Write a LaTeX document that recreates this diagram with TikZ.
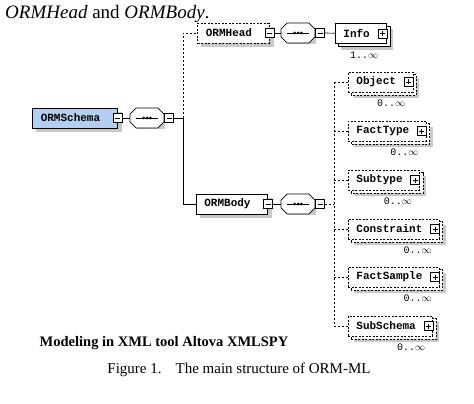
\documentclass[tikz,border=0pt]{standalone}
\usepackage{fontspec}
\setmainfont{Liberation Serif}
\newfontfamily\xmlfont{Liberation Mono}
\usetikzlibrary{backgrounds,shapes.misc}
\definecolor{schemablue}{RGB}{178,206,242}
\definecolor{shadowgrey}{RGB}{200,200,200}

\begin{document}
\begin{tikzpicture}[x=1pt, y=-1pt]
        \tikzstyle{elem}=[draw=black, fill=white, line width=0.8pt, minimum height=20pt, inner xsep=8pt, inner ysep=0pt, font=\xmlfont\bfseries\fontsize{11}{13}\selectfont, execute at end node=\hspace{9pt}]
        \tikzstyle{optional}=[dash pattern=on 2pt off 1.5pt]
        \tikzstyle{shade}=[fill=shadowgrey]
        \tikzstyle{pmbox}=[draw=black, fill=white, line width=0.6pt, minimum size=9pt, inner sep=0pt]
        \tikzstyle{minusbox}=[pmbox, path picture={\draw[black, line width=0.7pt] ([xshift=2pt]path picture bounding box.west) -- ([xshift=-2pt]path picture bounding box.east);}]
        \tikzstyle{plusbox}=[pmbox, path picture={\draw[black, line width=0.7pt] ([xshift=2pt]path picture bounding box.west) -- ([xshift=-2pt]path picture bounding box.east) ([yshift=2pt]path picture bounding box.south) -- ([yshift=-2pt]path picture bounding box.north);}]
        \tikzstyle{seqbox}=[chamfered rectangle, draw=black, fill=white, line width=0.8pt, minimum width=34pt, minimum height=20pt, inner sep=6pt, path picture={\draw[black, line width=0.7pt] ([xshift=6pt]path picture bounding box.west) -- ([xshift=-6pt]path picture bounding box.east); \fill[black] ([xshift=-3.3pt]path picture bounding box.center) circle (1.5pt) (path picture bounding box.center) circle (1.5pt) ([xshift=3.3pt]path picture bounding box.center) circle (1.5pt);}]
        \tikzstyle{mult}=[anchor=north east, inner sep=0pt, font=\xmlfont\fontsize{10}{12}\selectfont]
        \tikzstyle{link}=[line width=0.7pt]
        \tikzstyle{optlink}=[link, dash pattern=on 2pt off 2pt]
        \useasboundingbox (0,0) rectangle (474,404);

        % texts around the diagram
        \node[anchor=base west, inner sep=0pt, font=\fontsize{19}{22}\selectfont] (title) at (5,18.5) {\textit{ORMHead} and \textit{ORMBody}.};
        \node[anchor=base, inner sep=0pt, font=\bfseries\fontsize{14.5}{17}\selectfont] (tool) at (164,346) {Modeling in XML tool Altova XMLSPY};
        \node[anchor=base, inner sep=0pt, font=\fontsize{15}{18}\selectfont] (caption) at (239,373) {Figure 1.\hspace{14pt}The main structure of ORM-ML};

        % root
        \node[elem, fill=schemablue, minimum width=82pt] (schema) at (75,118) {ORMSchema};
        \node[minusbox] (schemapm) at (schema.east) {};
        \node[seqbox] (schemaseq) at (147,118) {};
        \node[minusbox, anchor=west] (schemaseqpm) at (schemaseq.east) {};
        \coordinate (schemafork) at (183,118);

        % head
        \node[elem, optional, minimum width=67pt] (head) at (233.5,33) {ORMHead};
        \node[minusbox] (headpm) at (head.east) {};
        \node[seqbox] (headseq) at (298,33) {};
        \node[minusbox, anchor=west] (headseqpm) at (headseq.east) {};
        \node[elem, anchor=west] (info) at (335,33.5) {Info};
        \node[plusbox, anchor=east] (infopm) at (info.east) {};
        \node[mult] (infomult) at ([xshift=-9pt, yshift=-8pt]info.south east) {1..$\infty$};

        % body
        \node[elem, minimum width=68pt] (body) at (232,204) {ORMBody};
        \node[minusbox] (bodypm) at (body.east) {};
        \node[seqbox] (bodyseq) at (298,204) {};
        \node[minusbox, anchor=west] (bodyseqpm) at (bodyseq.east) {};
        \coordinate (bodyfork) at (334,204);

        \node[elem, optional, anchor=west] (object) at (348,82) {Object};
        \node[elem, optional, anchor=west] (facttype) at (348,131) {FactType};
        \node[elem, optional, anchor=west] (subtype) at (348,180) {Subtype};
        \node[elem, optional, anchor=west] (constraint) at (348,229) {Constraint};
        \node[elem, optional, anchor=west] (factsample) at (348,277) {FactSample};
        \node[elem, optional, anchor=west] (subschema) at (348,326) {SubSchema};

        \node[plusbox, anchor=east] (objectpm) at (object.east) {};
        \node[plusbox, anchor=east] (facttypepm) at (facttype.east) {};
        \node[plusbox, anchor=east] (subtypepm) at (subtype.east) {};
        \node[plusbox, anchor=east] (constraintpm) at (constraint.east) {};
        \node[plusbox, anchor=east] (factsamplepm) at (factsample.east) {};
        \node[plusbox, anchor=east] (subschemapm) at (subschema.east) {};

        \node[mult] (objectmult) at ([xshift=-8pt, yshift=-7pt]object.south east) {0..$\infty$};
        \node[mult] (facttypemult) at ([xshift=-8pt, yshift=-7pt]facttype.south east) {0..$\infty$};
        \node[mult] (subtypemult) at ([xshift=-8pt, yshift=-7pt]subtype.south east) {0..$\infty$};
        \node[mult] (constraintmult) at ([xshift=-8pt, yshift=-7pt]constraint.south east) {0..$\infty$};
        \node[mult] (factsamplemult) at ([xshift=-8pt, yshift=-7pt]factsample.south east) {0..$\infty$};
        \node[mult] (subschemamult) at ([xshift=-8pt, yshift=-7pt]subschema.south east) {0..$\infty$};

        % shadows and stacked copies
        \begin{scope}[on background layer]
            \foreach \n in {schema,schemaseq,head,headseq,body,bodyseq}
                \fill[shade] ([shift={(4pt,-4pt)}]\n.south west) rectangle ([shift={(4pt,-4pt)}]\n.north east);
            \foreach \n in {info,object,facttype,subtype,constraint,factsample,subschema}
                \fill[shade] ([shift={(6pt,-6pt)}]\n.south west) rectangle ([shift={(6pt,-6pt)}]\n.north east);
            \draw[fill=white, line width=0.8pt] ([shift={(3pt,-3pt)}]info.south west) rectangle ([shift={(3pt,-3pt)}]info.north east);
            \foreach \n in {object,facttype,subtype,constraint,factsample,subschema}
                \draw[optional, fill=white, line width=0.8pt] ([shift={(3pt,-3pt)}]\n.south west) rectangle ([shift={(3pt,-3pt)}]\n.north east);
        \end{scope}

        % connectors
        \draw[link] (schemapm) -- (schemaseq);
        \draw[link] (schemaseqpm) -- (schemafork);
        \draw[optlink] (schemafork) |- (head);
        \draw[link] (schemafork) |- (body);
        \draw[link] (headpm) -- (headseq);
        \draw[link] (headseqpm) -- (info);
        \draw[link] (bodypm) -- (bodyseq);
        \draw[optlink] (bodyseqpm) -- (bodyfork);
        \draw[optlink] (bodyfork |- object) -- (bodyfork |- subschema);
        \draw[optlink] (bodyfork |- object) -- (object);
        \draw[optlink] (bodyfork |- facttype) -- (facttype);
        \draw[optlink] (bodyfork |- subtype) -- (subtype);
        \draw[optlink] (bodyfork |- constraint) -- (constraint);
        \draw[optlink] (bodyfork |- factsample) -- (factsample);
        \draw[optlink] (bodyfork |- subschema) -- (subschema);
\end{tikzpicture}
\end{document}
